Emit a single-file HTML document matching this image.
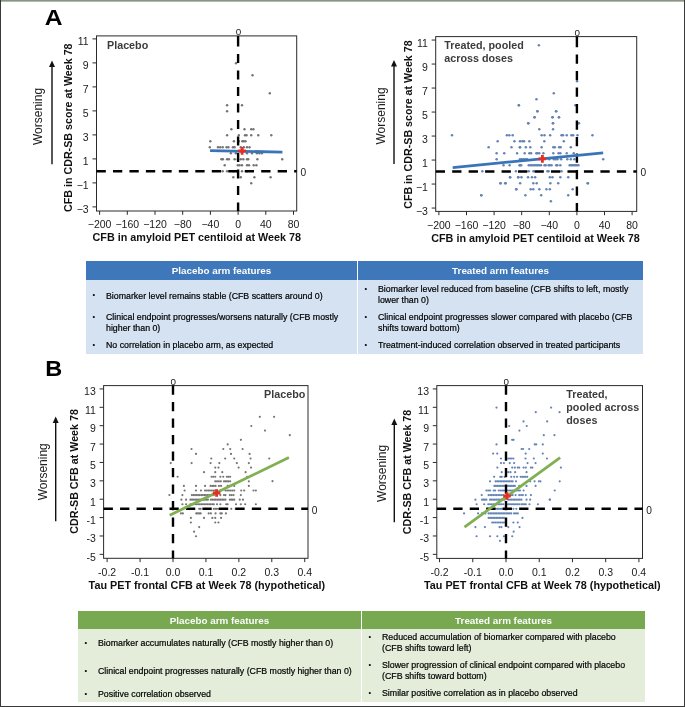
<!DOCTYPE html>
<html lang="en"><head><meta charset="utf-8"><title>Figure</title>
<style>
html,body{margin:0;padding:0;background:#fff;}
body{width:685px;height:707px;position:relative;overflow:hidden;font-family:"Liberation Sans", Arial, sans-serif;}
#frame{position:absolute;left:0;top:0;width:685px;height:707px;box-sizing:border-box;border-left:1px solid #3a3a3a;border-right:1px solid #3a3a3a;border-bottom:1px solid #3a3a3a;}
#topbar{position:absolute;left:0;top:0;width:685px;height:1px;background:#8a9387;border-bottom:1px solid #b2b9af;}
svg{position:absolute;left:0;top:0;}
svg text{font-family:"Liberation Sans", Arial, sans-serif;}
.tk{font-size:10.5px;fill:#1a1a1a;}
.z0{font-size:9.9px;fill:#1a1a1a;}
.z1{font-size:10.2px;fill:#1a1a1a;}
.ttl{font-size:10.8px;font-weight:bold;fill:#111;}
.yt{font-size:10.7px;}
.wor{font-size:12px;fill:#222;}
.lab{font-size:10.75px;font-weight:bold;fill:#3c3c3c;}
.pan{font-size:22.6px;font-weight:bold;fill:#000;}
.tb{position:absolute;font-size:8.8px;color:#000;}
.tb .th{position:relative;color:#fbfcfd;font-weight:bold;font-size:9.85px;text-align:center;}
.tb .th .c1,.tb .th .c2{position:absolute;top:0;height:100%;box-sizing:border-box;padding-top:0.9px;}
.tb .bd{position:relative;}
.tb .bd .c1,.tb .bd .c2{position:absolute;top:0;height:100%;}
.tb .c1{left:0;}
.it{position:absolute;left:0;padding-left:20px;line-height:11.3px;white-space:nowrap;-webkit-text-stroke:0.2px #000;}
.bu{position:absolute;left:6.6px;top:-1.1px;font-size:7.5px;-webkit-text-stroke:0;}
.ta .th .c1,.ta .th .c2{background:#3f78ba;}
.ta .bd .c1,.ta .bd .c2{background:#d4e2f2;}
.tbb .th .c1,.tbb .th .c2{background:#78a951;}
.tbb .bd .c1,.tbb .bd .c2{background:#e3edda;}
</style></head>
<body>
<svg width="685" height="707" viewBox="0 0 685 707">
<rect x="96.5" y="35.9" width="200.2" height="175.1" fill="#fff" stroke="#2a2a2a" stroke-width="1"/>
<line x1="92.5" y1="38.9" x2="96.5" y2="38.9" stroke="#2a2a2a" stroke-width="1"/>
<text x="88.7" y="45.4" text-anchor="end" class="tk">11</text>
<line x1="92.5" y1="62.9" x2="96.5" y2="62.9" stroke="#2a2a2a" stroke-width="1"/>
<text x="88.7" y="69.4" text-anchor="end" class="tk">9</text>
<line x1="92.5" y1="86.9" x2="96.5" y2="86.9" stroke="#2a2a2a" stroke-width="1"/>
<text x="88.7" y="93.4" text-anchor="end" class="tk">7</text>
<line x1="92.5" y1="110.9" x2="96.5" y2="110.9" stroke="#2a2a2a" stroke-width="1"/>
<text x="88.7" y="117.4" text-anchor="end" class="tk">5</text>
<line x1="92.5" y1="134.9" x2="96.5" y2="134.9" stroke="#2a2a2a" stroke-width="1"/>
<text x="88.7" y="141.4" text-anchor="end" class="tk">3</text>
<line x1="92.5" y1="158.9" x2="96.5" y2="158.9" stroke="#2a2a2a" stroke-width="1"/>
<text x="88.7" y="165.4" text-anchor="end" class="tk">1</text>
<line x1="92.5" y1="182.9" x2="96.5" y2="182.9" stroke="#2a2a2a" stroke-width="1"/>
<text x="88.7" y="189.4" text-anchor="end" class="tk">−1</text>
<line x1="92.5" y1="206.9" x2="96.5" y2="206.9" stroke="#2a2a2a" stroke-width="1"/>
<text x="88.7" y="213.4" text-anchor="end" class="tk">−3</text>
<line x1="99.6" y1="211" x2="99.6" y2="214.8" stroke="#2a2a2a" stroke-width="1"/>
<text x="99.6" y="228.2" text-anchor="middle" class="tk">−200</text>
<line x1="127.3" y1="211" x2="127.3" y2="214.8" stroke="#2a2a2a" stroke-width="1"/>
<text x="127.3" y="228.2" text-anchor="middle" class="tk">−160</text>
<line x1="155" y1="211" x2="155" y2="214.8" stroke="#2a2a2a" stroke-width="1"/>
<text x="155" y="228.2" text-anchor="middle" class="tk">−120</text>
<line x1="182.7" y1="211" x2="182.7" y2="214.8" stroke="#2a2a2a" stroke-width="1"/>
<text x="182.7" y="228.2" text-anchor="middle" class="tk">−80</text>
<line x1="210.4" y1="211" x2="210.4" y2="214.8" stroke="#2a2a2a" stroke-width="1"/>
<text x="210.4" y="228.2" text-anchor="middle" class="tk">−40</text>
<line x1="238.1" y1="211" x2="238.1" y2="214.8" stroke="#2a2a2a" stroke-width="1"/>
<text x="238.1" y="228.2" text-anchor="middle" class="tk">0</text>
<line x1="265.8" y1="211" x2="265.8" y2="214.8" stroke="#2a2a2a" stroke-width="1"/>
<text x="265.8" y="228.2" text-anchor="middle" class="tk">40</text>
<line x1="293.5" y1="211" x2="293.5" y2="214.8" stroke="#2a2a2a" stroke-width="1"/>
<text x="293.5" y="228.2" text-anchor="middle" class="tk">80</text>
<text x="196.8" y="241.4" text-anchor="middle" class="ttl">CFB in amyloid PET centiloid at Week 78</text>
<text transform="translate(72,127.7) rotate(-90)" text-anchor="middle" class="ttl yt">CFB in CDR-SB score at Week 78</text>
<text transform="translate(42.3,116.5) rotate(-90)" text-anchor="middle" class="wor">Worsening</text>
<line x1="52" y1="64.5" x2="52" y2="164.3" stroke="#111" stroke-width="1.4"/>
<path d="M52 60.5 L55 67.1 L49 67.1 Z" fill="#111"/>
<g fill="#747474"><circle cx="236" cy="63.3" r="1.2"/><circle cx="252.5" cy="75.3" r="1.2"/><circle cx="269.8" cy="93.3" r="1.2"/><circle cx="227.1" cy="105.3" r="1.2"/><circle cx="242" cy="105.3" r="1.2"/><circle cx="227.1" cy="111.3" r="1.2"/><circle cx="231.4" cy="129.3" r="1.2"/><circle cx="244.5" cy="129.3" r="1.2"/><circle cx="251.2" cy="129.3" r="1.2"/><circle cx="253.4" cy="129.3" r="1.2"/><circle cx="227.1" cy="135.3" r="1.2"/><circle cx="238.8" cy="135.3" r="1.2"/><circle cx="245" cy="135.3" r="1.2"/><circle cx="246.5" cy="135.3" r="1.2"/><circle cx="251.2" cy="135.3" r="1.2"/><circle cx="258.2" cy="135.3" r="1.2"/><circle cx="271.3" cy="135.3" r="1.2"/><circle cx="210.3" cy="141.3" r="1.2"/><circle cx="233.9" cy="141.3" r="1.2"/><circle cx="238.8" cy="141.3" r="1.2"/><circle cx="242.3" cy="141.3" r="1.2"/><circle cx="243.8" cy="141.3" r="1.2"/><circle cx="245.5" cy="141.3" r="1.2"/><circle cx="209.8" cy="147.3" r="1.2"/><circle cx="218" cy="147.3" r="1.2"/><circle cx="220.2" cy="147.3" r="1.2"/><circle cx="222.7" cy="147.3" r="1.2"/><circle cx="226.6" cy="147.3" r="1.2"/><circle cx="228.4" cy="147.3" r="1.2"/><circle cx="232.9" cy="147.3" r="1.2"/><circle cx="234.6" cy="147.3" r="1.2"/><circle cx="240.8" cy="147.3" r="1.2"/><circle cx="243.8" cy="147.3" r="1.2"/><circle cx="247" cy="147.3" r="1.2"/><circle cx="249.5" cy="147.3" r="1.2"/><circle cx="230.9" cy="153.3" r="1.2"/><circle cx="235.8" cy="153.3" r="1.2"/><circle cx="247" cy="153.3" r="1.2"/><circle cx="256.9" cy="153.3" r="1.2"/><circle cx="259.4" cy="153.3" r="1.2"/><circle cx="261.9" cy="153.3" r="1.2"/><circle cx="252" cy="153.3" r="1.2"/><circle cx="221.4" cy="159.3" r="1.2"/><circle cx="222.9" cy="159.3" r="1.2"/><circle cx="227.1" cy="159.3" r="1.2"/><circle cx="228.9" cy="159.3" r="1.2"/><circle cx="234.6" cy="159.3" r="1.2"/><circle cx="237.8" cy="159.3" r="1.2"/><circle cx="240.8" cy="159.3" r="1.2"/><circle cx="243.3" cy="159.3" r="1.2"/><circle cx="247" cy="159.3" r="1.2"/><circle cx="248.2" cy="159.3" r="1.2"/><circle cx="257.4" cy="159.3" r="1.2"/><circle cx="282.2" cy="159.3" r="1.2"/><circle cx="224.7" cy="165.3" r="1.2"/><circle cx="237.8" cy="165.3" r="1.2"/><circle cx="239.6" cy="165.3" r="1.2"/><circle cx="242" cy="165.3" r="1.2"/><circle cx="247" cy="165.3" r="1.2"/><circle cx="249" cy="165.3" r="1.2"/><circle cx="253.7" cy="165.3" r="1.2"/><circle cx="256.4" cy="165.3" r="1.2"/><circle cx="222.7" cy="171.3" r="1.2"/><circle cx="227.1" cy="171.3" r="1.2"/><circle cx="233.3" cy="171.3" r="1.2"/><circle cx="237.1" cy="171.3" r="1.2"/><circle cx="242" cy="171.3" r="1.2"/><circle cx="247" cy="171.3" r="1.2"/><circle cx="233.3" cy="177.3" r="1.2"/><circle cx="240.8" cy="177.3" r="1.2"/><circle cx="254.4" cy="177.3" r="1.2"/><circle cx="270.6" cy="177.3" r="1.2"/><circle cx="251.2" cy="183.3" r="1.2"/></g>
<line x1="238.1" y1="35.9" x2="238.1" y2="211" stroke="#000" stroke-width="2.4" stroke-dasharray="10.7 7.3 9.2 7.3 9.2 7.3 9.2 7.3 9.2 7.3 9.2 7.3 9.2 7.3 9.2 7.3 9.2 7.3 9.2 7.3 9.2 7.3 9.2 7.3"/>
<line x1="96.5" y1="171.3" x2="296.7" y2="171.3" stroke="#000" stroke-width="2.4" stroke-dasharray="9.3 7.17"/>
<text x="238.4" y="34.8" text-anchor="middle" class="z0">0</text>
<text x="303.3" y="176.2" text-anchor="middle" class="z1">0</text>
<line x1="210.05" y1="150.54" x2="282.42" y2="152.1" stroke="#3a74b8" stroke-width="2.8"/>
<path d="M238.3 150.9 H245.9 M242.1 147.1 V154.7" stroke="#e62e22" stroke-width="2.8" fill="none"/>
<text x="107" y="49.3" class="lab">Placebo</text>
<rect x="435.7" y="36.6" width="201" height="174.8" fill="#fff" stroke="#2a2a2a" stroke-width="1"/>
<line x1="431.7" y1="40.05" x2="435.7" y2="40.05" stroke="#2a2a2a" stroke-width="1"/>
<text x="427.9" y="46.55" text-anchor="end" class="tk">11</text>
<line x1="431.7" y1="64.05" x2="435.7" y2="64.05" stroke="#2a2a2a" stroke-width="1"/>
<text x="427.9" y="70.55" text-anchor="end" class="tk">9</text>
<line x1="431.7" y1="88.05" x2="435.7" y2="88.05" stroke="#2a2a2a" stroke-width="1"/>
<text x="427.9" y="94.55" text-anchor="end" class="tk">7</text>
<line x1="431.7" y1="112.05" x2="435.7" y2="112.05" stroke="#2a2a2a" stroke-width="1"/>
<text x="427.9" y="118.55" text-anchor="end" class="tk">5</text>
<line x1="431.7" y1="136.05" x2="435.7" y2="136.05" stroke="#2a2a2a" stroke-width="1"/>
<text x="427.9" y="142.55" text-anchor="end" class="tk">3</text>
<line x1="431.7" y1="160.05" x2="435.7" y2="160.05" stroke="#2a2a2a" stroke-width="1"/>
<text x="427.9" y="166.55" text-anchor="end" class="tk">1</text>
<line x1="431.7" y1="184.05" x2="435.7" y2="184.05" stroke="#2a2a2a" stroke-width="1"/>
<text x="427.9" y="190.55" text-anchor="end" class="tk">−1</text>
<line x1="431.7" y1="208.05" x2="435.7" y2="208.05" stroke="#2a2a2a" stroke-width="1"/>
<text x="427.9" y="214.55" text-anchor="end" class="tk">−3</text>
<line x1="438.9" y1="211.4" x2="438.9" y2="215.2" stroke="#2a2a2a" stroke-width="1"/>
<text x="438.9" y="228.6" text-anchor="middle" class="tk">−200</text>
<line x1="466.5" y1="211.4" x2="466.5" y2="215.2" stroke="#2a2a2a" stroke-width="1"/>
<text x="466.5" y="228.6" text-anchor="middle" class="tk">−160</text>
<line x1="494.1" y1="211.4" x2="494.1" y2="215.2" stroke="#2a2a2a" stroke-width="1"/>
<text x="494.1" y="228.6" text-anchor="middle" class="tk">−120</text>
<line x1="521.7" y1="211.4" x2="521.7" y2="215.2" stroke="#2a2a2a" stroke-width="1"/>
<text x="521.7" y="228.6" text-anchor="middle" class="tk">−80</text>
<line x1="549.3" y1="211.4" x2="549.3" y2="215.2" stroke="#2a2a2a" stroke-width="1"/>
<text x="549.3" y="228.6" text-anchor="middle" class="tk">−40</text>
<line x1="576.9" y1="211.4" x2="576.9" y2="215.2" stroke="#2a2a2a" stroke-width="1"/>
<text x="576.9" y="228.6" text-anchor="middle" class="tk">0</text>
<line x1="604.5" y1="211.4" x2="604.5" y2="215.2" stroke="#2a2a2a" stroke-width="1"/>
<text x="604.5" y="228.6" text-anchor="middle" class="tk">40</text>
<line x1="632.1" y1="211.4" x2="632.1" y2="215.2" stroke="#2a2a2a" stroke-width="1"/>
<text x="632.1" y="228.6" text-anchor="middle" class="tk">80</text>
<text x="535.5" y="241.8" text-anchor="middle" class="ttl">CFB in amyloid PET centiloid at Week 78</text>
<text transform="translate(411.8,124.6) rotate(-90)" text-anchor="middle" class="ttl yt">CFB in CDR-SB score at Week 78</text>
<text transform="translate(384.6,116) rotate(-90)" text-anchor="middle" class="wor">Worsening</text>
<line x1="394" y1="63.9" x2="394" y2="164" stroke="#111" stroke-width="1.4"/>
<path d="M394 59.9 L397 66.5 L391 66.5 Z" fill="#111"/>
<g fill="#6584b6"><circle cx="518.83" cy="105.3" r="1.25"/><circle cx="451.97" cy="135.3" r="1.25"/><circle cx="506.86" cy="135.3" r="1.25"/><circle cx="509.34" cy="135.3" r="1.25"/><circle cx="512.7" cy="135.3" r="1.25"/><circle cx="497.66" cy="141.3" r="1.25"/><circle cx="514.45" cy="141.3" r="1.25"/><circle cx="488.61" cy="147.3" r="1.25"/><circle cx="511.53" cy="147.3" r="1.25"/><circle cx="519.85" cy="147.3" r="1.25"/><circle cx="496.64" cy="153.3" r="1.25"/><circle cx="504.23" cy="153.3" r="1.25"/><circle cx="517.08" cy="153.3" r="1.25"/><circle cx="496.64" cy="159.3" r="1.25"/><circle cx="503.5" cy="165.3" r="1.25"/><circle cx="509.64" cy="165.3" r="1.25"/><circle cx="519.56" cy="165.3" r="1.25"/><circle cx="482.34" cy="171.3" r="1.25"/><circle cx="515.91" cy="171.3" r="1.25"/><circle cx="510.07" cy="177.3" r="1.25"/><circle cx="518.1" cy="177.3" r="1.25"/><circle cx="500.58" cy="183.3" r="1.25"/><circle cx="505.69" cy="183.3" r="1.25"/><circle cx="516.35" cy="189.3" r="1.25"/><circle cx="481.31" cy="195.3" r="1.25"/><circle cx="537.52" cy="111.3" r="1.25"/><circle cx="556.21" cy="111.3" r="1.25"/><circle cx="534.6" cy="117.3" r="1.25"/><circle cx="552.48" cy="117.3" r="1.25"/><circle cx="558.9" cy="117.3" r="1.25"/><circle cx="528.18" cy="123.3" r="1.25"/><circle cx="553.06" cy="123.3" r="1.25"/><circle cx="579" cy="123.3" r="1.25"/><circle cx="539.28" cy="129.3" r="1.25"/><circle cx="553.06" cy="129.3" r="1.25"/><circle cx="541.61" cy="135.3" r="1.25"/><circle cx="544.53" cy="135.3" r="1.25"/><circle cx="550.14" cy="135.3" r="1.25"/><circle cx="561.47" cy="135.3" r="1.25"/><circle cx="562.99" cy="135.3" r="1.25"/><circle cx="566.73" cy="135.3" r="1.25"/><circle cx="571.4" cy="135.3" r="1.25"/><circle cx="573.15" cy="135.3" r="1.25"/><circle cx="577.48" cy="135.3" r="1.25"/><circle cx="592.43" cy="135.3" r="1.25"/><circle cx="520" cy="141.3" r="1.25"/><circle cx="522.34" cy="141.3" r="1.25"/><circle cx="524.09" cy="141.3" r="1.25"/><circle cx="529.35" cy="141.3" r="1.25"/><circle cx="544.3" cy="141.3" r="1.25"/><circle cx="563.81" cy="141.3" r="1.25"/><circle cx="520" cy="147.3" r="1.25"/><circle cx="525.84" cy="147.3" r="1.25"/><circle cx="530.28" cy="147.3" r="1.25"/><circle cx="541.61" cy="147.3" r="1.25"/><circle cx="553.29" cy="147.3" r="1.25"/><circle cx="554.81" cy="147.3" r="1.25"/><circle cx="559.14" cy="147.3" r="1.25"/><circle cx="560.65" cy="147.3" r="1.25"/><circle cx="570.82" cy="147.3" r="1.25"/><circle cx="524.67" cy="153.3" r="1.25"/><circle cx="529.35" cy="153.3" r="1.25"/><circle cx="531.1" cy="153.3" r="1.25"/><circle cx="536.36" cy="153.3" r="1.25"/><circle cx="537.52" cy="153.3" r="1.25"/><circle cx="539.28" cy="153.3" r="1.25"/><circle cx="543.36" cy="153.3" r="1.25"/><circle cx="553.29" cy="153.3" r="1.25"/><circle cx="558.55" cy="153.3" r="1.25"/><circle cx="560.3" cy="153.3" r="1.25"/><circle cx="566.73" cy="153.3" r="1.25"/><circle cx="573.74" cy="153.3" r="1.25"/><circle cx="520" cy="159.3" r="1.25"/><circle cx="521.75" cy="159.3" r="1.25"/><circle cx="523.5" cy="159.3" r="1.25"/><circle cx="525.26" cy="159.3" r="1.25"/><circle cx="527.01" cy="159.3" r="1.25"/><circle cx="549.21" cy="159.3" r="1.25"/><circle cx="553.88" cy="159.3" r="1.25"/><circle cx="555.63" cy="159.3" r="1.25"/><circle cx="557.38" cy="159.3" r="1.25"/><circle cx="561.12" cy="159.3" r="1.25"/><circle cx="567.31" cy="159.3" r="1.25"/><circle cx="570.82" cy="159.3" r="1.25"/><circle cx="574.32" cy="159.3" r="1.25"/><circle cx="520" cy="165.3" r="1.25"/><circle cx="521.17" cy="165.3" r="1.25"/><circle cx="528.76" cy="165.3" r="1.25"/><circle cx="530.29" cy="165.3" r="1.25"/><circle cx="531.83" cy="165.3" r="1.25"/><circle cx="533.36" cy="165.3" r="1.25"/><circle cx="534.89" cy="165.3" r="1.25"/><circle cx="536.43" cy="165.3" r="1.25"/><circle cx="537.96" cy="165.3" r="1.25"/><circle cx="539.49" cy="165.3" r="1.25"/><circle cx="541.03" cy="165.3" r="1.25"/><circle cx="544.53" cy="165.3" r="1.25"/><circle cx="545.7" cy="165.3" r="1.25"/><circle cx="548.62" cy="165.3" r="1.25"/><circle cx="549.79" cy="165.3" r="1.25"/><circle cx="551.54" cy="165.3" r="1.25"/><circle cx="556.21" cy="165.3" r="1.25"/><circle cx="557.38" cy="165.3" r="1.25"/><circle cx="560.3" cy="165.3" r="1.25"/><circle cx="569.65" cy="165.3" r="1.25"/><circle cx="571.11" cy="165.3" r="1.25"/><circle cx="572.57" cy="165.3" r="1.25"/><circle cx="574.03" cy="165.3" r="1.25"/><circle cx="575.49" cy="165.3" r="1.25"/><circle cx="576.95" cy="165.3" r="1.25"/><circle cx="578.41" cy="165.3" r="1.25"/><circle cx="528.76" cy="171.3" r="1.25"/><circle cx="533.43" cy="171.3" r="1.25"/><circle cx="547.45" cy="171.3" r="1.25"/><circle cx="548.62" cy="171.3" r="1.25"/><circle cx="561.47" cy="171.3" r="1.25"/><circle cx="510.15" cy="177.3" r="1.25"/><circle cx="518.3" cy="177.3" r="1.25"/><circle cx="521.45" cy="177.3" r="1.25"/><circle cx="528.02" cy="177.3" r="1.25"/><circle cx="531.96" cy="177.3" r="1.25"/><circle cx="535.11" cy="177.3" r="1.25"/><circle cx="549.83" cy="177.3" r="1.25"/><circle cx="552.45" cy="177.3" r="1.25"/><circle cx="560.34" cy="177.3" r="1.25"/><circle cx="568.22" cy="177.3" r="1.25"/><circle cx="500.43" cy="183.3" r="1.25"/><circle cx="505.16" cy="183.3" r="1.25"/><circle cx="520.14" cy="183.3" r="1.25"/><circle cx="533.27" cy="183.3" r="1.25"/><circle cx="536.69" cy="183.3" r="1.25"/><circle cx="550.35" cy="183.3" r="1.25"/><circle cx="558.23" cy="183.3" r="1.25"/><circle cx="587.92" cy="183.3" r="1.25"/><circle cx="516.2" cy="189.3" r="1.25"/><circle cx="530.65" cy="189.3" r="1.25"/><circle cx="533.27" cy="189.3" r="1.25"/><circle cx="539.32" cy="189.3" r="1.25"/><circle cx="546.41" cy="189.3" r="1.25"/><circle cx="549.83" cy="189.3" r="1.25"/><circle cx="572.69" cy="189.3" r="1.25"/><circle cx="481.25" cy="195.3" r="1.25"/><circle cx="525.39" cy="195.3" r="1.25"/><circle cx="541.16" cy="195.3" r="1.25"/><circle cx="568.22" cy="195.3" r="1.25"/><circle cx="550.88" cy="201.3" r="1.25"/><circle cx="538.89" cy="45.3" r="1.25"/><circle cx="577.08" cy="81.3" r="1.25"/><circle cx="553.78" cy="93.3" r="1.25"/><circle cx="536.44" cy="99.3" r="1.25"/><circle cx="518.92" cy="105.3" r="1.25"/><circle cx="575.33" cy="105.3" r="1.25"/><circle cx="537.32" cy="111.3" r="1.25"/><circle cx="556.06" cy="111.3" r="1.25"/><circle cx="534.51" cy="117.3" r="1.25"/><circle cx="552.56" cy="117.3" r="1.25"/><circle cx="559.04" cy="117.3" r="1.25"/><circle cx="528.38" cy="123.3" r="1.25"/><circle cx="552.91" cy="123.3" r="1.25"/><circle cx="577.96" cy="123.3" r="1.25"/><circle cx="603.2" cy="159.3" r="1.25"/><circle cx="587.7" cy="183.3" r="1.25"/></g>
<line x1="576.9" y1="36.6" x2="576.9" y2="211.4" stroke="#000" stroke-width="2.4" stroke-dasharray="10.7 7.3 9.2 7.3 9.2 7.3 9.2 7.3 9.2 7.3 9.2 7.3 9.2 7.3 9.2 7.3 9.2 7.3 9.2 7.3 9.2 7.3 9.2 7.3"/>
<line x1="435.7" y1="171.5" x2="636.7" y2="171.5" stroke="#000" stroke-width="2.4" stroke-dasharray="9.3 7.17"/>
<text x="577.2" y="35.5" text-anchor="middle" class="z0">0</text>
<text x="643.3" y="176.4" text-anchor="middle" class="z1">0</text>
<line x1="452.7" y1="167.54" x2="603.12" y2="152.9" stroke="#3a74b8" stroke-width="2.8"/>
<path d="M538.6 158.9 H546.2 M542.4 155.1 V162.7" stroke="#e62e22" stroke-width="2.8" fill="none"/>
<text x="444.3" y="49.3" class="lab">Treated, pooled</text>
<text x="444.3" y="62.2" class="lab">across doses</text>
<rect x="103.6" y="385.6" width="204.4" height="172.7" fill="#fff" stroke="#2a2a2a" stroke-width="1"/>
<line x1="99.6" y1="388.93" x2="103.6" y2="388.93" stroke="#2a2a2a" stroke-width="1"/>
<text x="95.8" y="395.43" text-anchor="end" class="tk">13</text>
<line x1="99.6" y1="407.31" x2="103.6" y2="407.31" stroke="#2a2a2a" stroke-width="1"/>
<text x="95.8" y="413.81" text-anchor="end" class="tk">11</text>
<line x1="99.6" y1="425.69" x2="103.6" y2="425.69" stroke="#2a2a2a" stroke-width="1"/>
<text x="95.8" y="432.19" text-anchor="end" class="tk">9</text>
<line x1="99.6" y1="444.07" x2="103.6" y2="444.07" stroke="#2a2a2a" stroke-width="1"/>
<text x="95.8" y="450.57" text-anchor="end" class="tk">7</text>
<line x1="99.6" y1="462.45" x2="103.6" y2="462.45" stroke="#2a2a2a" stroke-width="1"/>
<text x="95.8" y="468.95" text-anchor="end" class="tk">5</text>
<line x1="99.6" y1="480.83" x2="103.6" y2="480.83" stroke="#2a2a2a" stroke-width="1"/>
<text x="95.8" y="487.33" text-anchor="end" class="tk">3</text>
<line x1="99.6" y1="499.21" x2="103.6" y2="499.21" stroke="#2a2a2a" stroke-width="1"/>
<text x="95.8" y="505.71" text-anchor="end" class="tk">1</text>
<line x1="99.6" y1="517.59" x2="103.6" y2="517.59" stroke="#2a2a2a" stroke-width="1"/>
<text x="95.8" y="524.09" text-anchor="end" class="tk">-1</text>
<line x1="99.6" y1="535.97" x2="103.6" y2="535.97" stroke="#2a2a2a" stroke-width="1"/>
<text x="95.8" y="542.47" text-anchor="end" class="tk">-3</text>
<line x1="99.6" y1="554.35" x2="103.6" y2="554.35" stroke="#2a2a2a" stroke-width="1"/>
<text x="95.8" y="560.85" text-anchor="end" class="tk">-5</text>
<line x1="107.14" y1="558.3" x2="107.14" y2="562.1" stroke="#2a2a2a" stroke-width="1"/>
<text x="107.14" y="575.5" text-anchor="middle" class="tk">-0.2</text>
<line x1="140.07" y1="558.3" x2="140.07" y2="562.1" stroke="#2a2a2a" stroke-width="1"/>
<text x="140.07" y="575.5" text-anchor="middle" class="tk">-0.1</text>
<line x1="173" y1="558.3" x2="173" y2="562.1" stroke="#2a2a2a" stroke-width="1"/>
<text x="173" y="575.5" text-anchor="middle" class="tk">0.0</text>
<line x1="205.93" y1="558.3" x2="205.93" y2="562.1" stroke="#2a2a2a" stroke-width="1"/>
<text x="205.93" y="575.5" text-anchor="middle" class="tk">0.1</text>
<line x1="238.86" y1="558.3" x2="238.86" y2="562.1" stroke="#2a2a2a" stroke-width="1"/>
<text x="238.86" y="575.5" text-anchor="middle" class="tk">0.2</text>
<line x1="271.79" y1="558.3" x2="271.79" y2="562.1" stroke="#2a2a2a" stroke-width="1"/>
<text x="271.79" y="575.5" text-anchor="middle" class="tk">0.3</text>
<line x1="304.72" y1="558.3" x2="304.72" y2="562.1" stroke="#2a2a2a" stroke-width="1"/>
<text x="304.72" y="575.5" text-anchor="middle" class="tk">0.4</text>
<text x="206.9" y="588.7" text-anchor="middle" class="ttl">Tau PET frontal CFB at Week 78 (hypothetical)</text>
<text transform="translate(77.6,471.4) rotate(-90)" text-anchor="middle" class="ttl yt">CDR-SB CFB at Week 78</text>
<text transform="translate(46.6,471.8) rotate(-90)" text-anchor="middle" class="wor">Worsening</text>
<line x1="55.7" y1="420.5" x2="55.7" y2="521.3" stroke="#111" stroke-width="1.4"/>
<path d="M55.7 416.5 L58.7 423.1 L52.7 423.1 Z" fill="#111"/>
<g fill="#747474"><circle cx="195.99" cy="453.9" r="1.08"/><circle cx="231.02" cy="453.9" r="1.08"/><circle cx="249.56" cy="453.9" r="1.08"/><circle cx="211.31" cy="458.48" r="1.08"/><circle cx="225.18" cy="458.48" r="1.08"/><circle cx="234.23" cy="458.48" r="1.08"/><circle cx="250.58" cy="458.48" r="1.08"/><circle cx="269.27" cy="458.48" r="1.08"/><circle cx="170.73" cy="463.05" r="1.08"/><circle cx="191.61" cy="463.05" r="1.08"/><circle cx="210.58" cy="463.05" r="1.08"/><circle cx="219.34" cy="463.05" r="1.08"/><circle cx="236.86" cy="463.05" r="1.08"/><circle cx="248.83" cy="463.05" r="1.08"/><circle cx="215.26" cy="467.62" r="1.08"/><circle cx="218.47" cy="467.62" r="1.08"/><circle cx="238.61" cy="467.62" r="1.08"/><circle cx="251.02" cy="467.62" r="1.08"/><circle cx="204.01" cy="472.2" r="1.08"/><circle cx="215.26" cy="472.2" r="1.08"/><circle cx="222.26" cy="472.2" r="1.08"/><circle cx="245.62" cy="472.2" r="1.08"/><circle cx="177.59" cy="476.78" r="1.08"/><circle cx="211.61" cy="476.78" r="1.08"/><circle cx="213.36" cy="476.78" r="1.08"/><circle cx="215.26" cy="476.78" r="1.08"/><circle cx="220.36" cy="476.78" r="1.08"/><circle cx="223.28" cy="476.78" r="1.08"/><circle cx="226.93" cy="476.78" r="1.08"/><circle cx="228.39" cy="476.78" r="1.08"/><circle cx="230.15" cy="476.78" r="1.08"/><circle cx="247.08" cy="476.78" r="1.08"/><circle cx="215.26" cy="481.35" r="1.08"/><circle cx="217.01" cy="481.35" r="1.08"/><circle cx="218.91" cy="481.35" r="1.08"/><circle cx="220.8" cy="481.35" r="1.08"/><circle cx="224.01" cy="481.35" r="1.08"/><circle cx="225.47" cy="481.35" r="1.08"/><circle cx="226.93" cy="481.35" r="1.08"/><circle cx="228.39" cy="481.35" r="1.08"/><circle cx="230.15" cy="481.35" r="1.08"/><circle cx="248.83" cy="481.35" r="1.08"/><circle cx="183.87" cy="485.93" r="1.08"/><circle cx="195.99" cy="485.93" r="1.08"/><circle cx="205.04" cy="485.93" r="1.08"/><circle cx="210.58" cy="485.93" r="1.08"/><circle cx="212.34" cy="485.93" r="1.08"/><circle cx="213.8" cy="485.93" r="1.08"/><circle cx="215.55" cy="485.93" r="1.08"/><circle cx="218.91" cy="485.93" r="1.08"/><circle cx="221.09" cy="485.93" r="1.08"/><circle cx="227.66" cy="485.93" r="1.08"/><circle cx="229.12" cy="485.93" r="1.08"/><circle cx="230.58" cy="485.93" r="1.08"/><circle cx="234.23" cy="485.93" r="1.08"/><circle cx="248.83" cy="485.93" r="1.08"/><circle cx="184.6" cy="490.5" r="1.08"/><circle cx="195.99" cy="490.5" r="1.08"/><circle cx="200.95" cy="490.5" r="1.08"/><circle cx="205.04" cy="490.5" r="1.08"/><circle cx="206.7" cy="490.5" r="1.08"/><circle cx="208.37" cy="490.5" r="1.08"/><circle cx="210.04" cy="490.5" r="1.08"/><circle cx="211.71" cy="490.5" r="1.08"/><circle cx="213.38" cy="490.5" r="1.08"/><circle cx="215.05" cy="490.5" r="1.08"/><circle cx="216.72" cy="490.5" r="1.08"/><circle cx="220.36" cy="490.5" r="1.08"/><circle cx="225.47" cy="490.5" r="1.08"/><circle cx="227.23" cy="490.5" r="1.08"/><circle cx="228.98" cy="490.5" r="1.08"/><circle cx="230.73" cy="490.5" r="1.08"/><circle cx="232.48" cy="490.5" r="1.08"/><circle cx="234.23" cy="490.5" r="1.08"/><circle cx="241.24" cy="490.5" r="1.08"/><circle cx="244.16" cy="490.5" r="1.08"/><circle cx="253.5" cy="490.5" r="1.08"/><circle cx="255.84" cy="490.5" r="1.08"/><circle cx="182.41" cy="495.07" r="1.08"/><circle cx="191.9" cy="495.07" r="1.08"/><circle cx="193.46" cy="495.07" r="1.08"/><circle cx="195.03" cy="495.07" r="1.08"/><circle cx="196.59" cy="495.07" r="1.08"/><circle cx="198.15" cy="495.07" r="1.08"/><circle cx="199.72" cy="495.07" r="1.08"/><circle cx="201.28" cy="495.07" r="1.08"/><circle cx="202.85" cy="495.07" r="1.08"/><circle cx="204.41" cy="495.07" r="1.08"/><circle cx="205.97" cy="495.07" r="1.08"/><circle cx="207.54" cy="495.07" r="1.08"/><circle cx="209.1" cy="495.07" r="1.08"/><circle cx="210.67" cy="495.07" r="1.08"/><circle cx="212.23" cy="495.07" r="1.08"/><circle cx="213.8" cy="495.07" r="1.08"/><circle cx="220.36" cy="495.07" r="1.08"/><circle cx="224.01" cy="495.07" r="1.08"/><circle cx="225.47" cy="495.07" r="1.08"/><circle cx="229.85" cy="495.07" r="1.08"/><circle cx="231.68" cy="495.07" r="1.08"/><circle cx="233.5" cy="495.07" r="1.08"/><circle cx="240.8" cy="495.07" r="1.08"/><circle cx="181.39" cy="499.65" r="1.08"/><circle cx="186.06" cy="499.65" r="1.08"/><circle cx="190.44" cy="499.65" r="1.08"/><circle cx="192.03" cy="499.65" r="1.08"/><circle cx="193.62" cy="499.65" r="1.08"/><circle cx="195.22" cy="499.65" r="1.08"/><circle cx="196.81" cy="499.65" r="1.08"/><circle cx="198.4" cy="499.65" r="1.08"/><circle cx="199.99" cy="499.65" r="1.08"/><circle cx="201.59" cy="499.65" r="1.08"/><circle cx="203.18" cy="499.65" r="1.08"/><circle cx="204.77" cy="499.65" r="1.08"/><circle cx="206.36" cy="499.65" r="1.08"/><circle cx="207.96" cy="499.65" r="1.08"/><circle cx="210.88" cy="499.65" r="1.08"/><circle cx="212.5" cy="499.65" r="1.08"/><circle cx="214.12" cy="499.65" r="1.08"/><circle cx="215.74" cy="499.65" r="1.08"/><circle cx="217.36" cy="499.65" r="1.08"/><circle cx="218.99" cy="499.65" r="1.08"/><circle cx="220.61" cy="499.65" r="1.08"/><circle cx="222.23" cy="499.65" r="1.08"/><circle cx="223.85" cy="499.65" r="1.08"/><circle cx="225.47" cy="499.65" r="1.08"/><circle cx="229.85" cy="499.65" r="1.08"/><circle cx="231.31" cy="499.65" r="1.08"/><circle cx="232.77" cy="499.65" r="1.08"/><circle cx="234.23" cy="499.65" r="1.08"/><circle cx="239.78" cy="499.65" r="1.08"/><circle cx="242.99" cy="499.65" r="1.08"/><circle cx="182.41" cy="504.23" r="1.08"/><circle cx="186.06" cy="504.23" r="1.08"/><circle cx="190.44" cy="504.23" r="1.08"/><circle cx="192" cy="504.23" r="1.08"/><circle cx="193.55" cy="504.23" r="1.08"/><circle cx="195.11" cy="504.23" r="1.08"/><circle cx="196.67" cy="504.23" r="1.08"/><circle cx="198.22" cy="504.23" r="1.08"/><circle cx="199.78" cy="504.23" r="1.08"/><circle cx="201.34" cy="504.23" r="1.08"/><circle cx="202.9" cy="504.23" r="1.08"/><circle cx="204.45" cy="504.23" r="1.08"/><circle cx="206.01" cy="504.23" r="1.08"/><circle cx="207.57" cy="504.23" r="1.08"/><circle cx="209.12" cy="504.23" r="1.08"/><circle cx="210.68" cy="504.23" r="1.08"/><circle cx="212.24" cy="504.23" r="1.08"/><circle cx="213.8" cy="504.23" r="1.08"/><circle cx="217.01" cy="504.23" r="1.08"/><circle cx="220.36" cy="504.23" r="1.08"/><circle cx="226.2" cy="504.23" r="1.08"/><circle cx="227.66" cy="504.23" r="1.08"/><circle cx="235.99" cy="504.23" r="1.08"/><circle cx="240.8" cy="504.23" r="1.08"/><circle cx="245.18" cy="504.23" r="1.08"/><circle cx="255.84" cy="504.23" r="1.08"/><circle cx="199.2" cy="508.8" r="1.08"/><circle cx="200.66" cy="508.8" r="1.08"/><circle cx="213.8" cy="508.8" r="1.08"/><circle cx="215.26" cy="508.8" r="1.08"/><circle cx="216.72" cy="508.8" r="1.08"/><circle cx="218.18" cy="508.8" r="1.08"/><circle cx="231.31" cy="508.8" r="1.08"/><circle cx="235.69" cy="508.8" r="1.08"/><circle cx="180.95" cy="513.38" r="1.08"/><circle cx="182.85" cy="513.38" r="1.08"/><circle cx="196.28" cy="513.38" r="1.08"/><circle cx="197.74" cy="513.38" r="1.08"/><circle cx="199.2" cy="513.38" r="1.08"/><circle cx="200.66" cy="513.38" r="1.08"/><circle cx="208.69" cy="513.38" r="1.08"/><circle cx="210.88" cy="513.38" r="1.08"/><circle cx="215.55" cy="513.38" r="1.08"/><circle cx="220.36" cy="513.38" r="1.08"/><circle cx="221.82" cy="513.38" r="1.08"/><circle cx="225.91" cy="513.38" r="1.08"/><circle cx="190.88" cy="517.95" r="1.08"/><circle cx="204.01" cy="517.95" r="1.08"/><circle cx="212.34" cy="517.95" r="1.08"/><circle cx="215.26" cy="517.95" r="1.08"/><circle cx="221.09" cy="517.95" r="1.08"/><circle cx="190.88" cy="522.52" r="1.08"/><circle cx="215.26" cy="522.52" r="1.08"/><circle cx="218.47" cy="522.52" r="1.08"/><circle cx="199.2" cy="527.1" r="1.08"/><circle cx="194.09" cy="531.67" r="1.08"/><circle cx="195.99" cy="536.25" r="1.08"/><circle cx="259.8" cy="416.8" r="1.08"/><circle cx="274.1" cy="416.8" r="1.08"/><circle cx="251.3" cy="426" r="1.08"/><circle cx="265" cy="430.6" r="1.08"/><circle cx="289.8" cy="435.2" r="1.08"/><circle cx="240.9" cy="439.8" r="1.08"/><circle cx="227.7" cy="444.4" r="1.08"/><circle cx="191.5" cy="449" r="1.08"/><circle cx="223.3" cy="449" r="1.08"/><circle cx="230.2" cy="449" r="1.08"/><circle cx="242.6" cy="449" r="1.08"/><circle cx="272.5" cy="481.2" r="1.08"/><circle cx="169.4" cy="495" r="1.08"/></g>
<line x1="173" y1="385.6" x2="173" y2="558.3" stroke="#000" stroke-width="2.4" stroke-dasharray="9.2 7.3 9.2 7.3 9.2 7.3 9.2 7.3 9.2 7.3 9.2 7.3 9.2 7.3 9.2 7.3 9.2 7.3 9.2 7.3 9.2 7.3 9.2 7.3"/>
<line x1="103.6" y1="508.8" x2="308" y2="508.8" stroke="#000" stroke-width="2.4" stroke-dasharray="9.3 7.17"/>
<text x="173.3" y="384.5" text-anchor="middle" class="z0">0</text>
<text x="314.6" y="513.7" text-anchor="middle" class="z1">0</text>
<line x1="169.71" y1="515.21" x2="288.91" y2="457.56" stroke="#80b052" stroke-width="2.8"/>
<path d="M212.8 493 H220.4 M216.6 489.2 V496.8" stroke="#e62e22" stroke-width="2.8" fill="none"/>
<text x="305.3" y="398.3" text-anchor="end" class="lab">Placebo</text>
<rect x="436.8" y="385.6" width="205.7" height="172.8" fill="#fff" stroke="#2a2a2a" stroke-width="1"/>
<line x1="432.8" y1="388.93" x2="436.8" y2="388.93" stroke="#2a2a2a" stroke-width="1"/>
<text x="429" y="395.43" text-anchor="end" class="tk">13</text>
<line x1="432.8" y1="407.31" x2="436.8" y2="407.31" stroke="#2a2a2a" stroke-width="1"/>
<text x="429" y="413.81" text-anchor="end" class="tk">11</text>
<line x1="432.8" y1="425.69" x2="436.8" y2="425.69" stroke="#2a2a2a" stroke-width="1"/>
<text x="429" y="432.19" text-anchor="end" class="tk">9</text>
<line x1="432.8" y1="444.07" x2="436.8" y2="444.07" stroke="#2a2a2a" stroke-width="1"/>
<text x="429" y="450.57" text-anchor="end" class="tk">7</text>
<line x1="432.8" y1="462.45" x2="436.8" y2="462.45" stroke="#2a2a2a" stroke-width="1"/>
<text x="429" y="468.95" text-anchor="end" class="tk">5</text>
<line x1="432.8" y1="480.83" x2="436.8" y2="480.83" stroke="#2a2a2a" stroke-width="1"/>
<text x="429" y="487.33" text-anchor="end" class="tk">3</text>
<line x1="432.8" y1="499.21" x2="436.8" y2="499.21" stroke="#2a2a2a" stroke-width="1"/>
<text x="429" y="505.71" text-anchor="end" class="tk">1</text>
<line x1="432.8" y1="517.59" x2="436.8" y2="517.59" stroke="#2a2a2a" stroke-width="1"/>
<text x="429" y="524.09" text-anchor="end" class="tk">-1</text>
<line x1="432.8" y1="535.97" x2="436.8" y2="535.97" stroke="#2a2a2a" stroke-width="1"/>
<text x="429" y="542.47" text-anchor="end" class="tk">-3</text>
<line x1="432.8" y1="554.35" x2="436.8" y2="554.35" stroke="#2a2a2a" stroke-width="1"/>
<text x="429" y="560.85" text-anchor="end" class="tk">-5</text>
<line x1="439.54" y1="558.4" x2="439.54" y2="562.2" stroke="#2a2a2a" stroke-width="1"/>
<text x="439.54" y="575.6" text-anchor="middle" class="tk">-0.2</text>
<line x1="472.77" y1="558.4" x2="472.77" y2="562.2" stroke="#2a2a2a" stroke-width="1"/>
<text x="472.77" y="575.6" text-anchor="middle" class="tk">-0.1</text>
<line x1="506" y1="558.4" x2="506" y2="562.2" stroke="#2a2a2a" stroke-width="1"/>
<text x="506" y="575.6" text-anchor="middle" class="tk">0.0</text>
<line x1="539.23" y1="558.4" x2="539.23" y2="562.2" stroke="#2a2a2a" stroke-width="1"/>
<text x="539.23" y="575.6" text-anchor="middle" class="tk">0.1</text>
<line x1="572.46" y1="558.4" x2="572.46" y2="562.2" stroke="#2a2a2a" stroke-width="1"/>
<text x="572.46" y="575.6" text-anchor="middle" class="tk">0.2</text>
<line x1="605.69" y1="558.4" x2="605.69" y2="562.2" stroke="#2a2a2a" stroke-width="1"/>
<text x="605.69" y="575.6" text-anchor="middle" class="tk">0.3</text>
<line x1="638.92" y1="558.4" x2="638.92" y2="562.2" stroke="#2a2a2a" stroke-width="1"/>
<text x="638.92" y="575.6" text-anchor="middle" class="tk">0.4</text>
<text x="542.3" y="588.8" text-anchor="middle" class="ttl">Tau PET frontal CFB at Week 78 (hypothetical)</text>
<text transform="translate(411.2,472) rotate(-90)" text-anchor="middle" class="ttl yt">CDR-SB CFB at Week 78</text>
<text transform="translate(385.8,473.4) rotate(-90)" text-anchor="middle" class="wor">Worsening</text>
<line x1="394.3" y1="422.5" x2="394.3" y2="522.2" stroke="#111" stroke-width="1.4"/>
<path d="M394.3 418.5 L397.3 425.1 L391.3 425.1 Z" fill="#111"/>
<g fill="#6584b6"><circle cx="500.99" cy="458.48" r="1.1"/><circle cx="508.28" cy="458.48" r="1.1"/><circle cx="509.99" cy="458.48" r="1.1"/><circle cx="511.69" cy="458.48" r="1.1"/><circle cx="513.39" cy="458.48" r="1.1"/><circle cx="525.51" cy="458.48" r="1.1"/><circle cx="533.83" cy="458.48" r="1.1"/><circle cx="546.97" cy="458.48" r="1.1"/><circle cx="500.99" cy="463.05" r="1.1"/><circle cx="503.91" cy="463.05" r="1.1"/><circle cx="509.74" cy="463.05" r="1.1"/><circle cx="514.12" cy="463.05" r="1.1"/><circle cx="527.55" cy="463.05" r="1.1"/><circle cx="535.58" cy="463.05" r="1.1"/><circle cx="497.34" cy="467.62" r="1.1"/><circle cx="512.23" cy="467.62" r="1.1"/><circle cx="514.85" cy="467.62" r="1.1"/><circle cx="517.77" cy="467.62" r="1.1"/><circle cx="519.23" cy="467.62" r="1.1"/><circle cx="523.61" cy="467.62" r="1.1"/><circle cx="525.8" cy="467.62" r="1.1"/><circle cx="530.91" cy="467.62" r="1.1"/><circle cx="532.37" cy="467.62" r="1.1"/><circle cx="501.72" cy="472.2" r="1.1"/><circle cx="508.28" cy="472.2" r="1.1"/><circle cx="510.47" cy="472.2" r="1.1"/><circle cx="515.15" cy="472.2" r="1.1"/><circle cx="526.53" cy="472.2" r="1.1"/><circle cx="494.12" cy="476.78" r="1.1"/><circle cx="500.26" cy="476.78" r="1.1"/><circle cx="501.72" cy="476.78" r="1.1"/><circle cx="504.64" cy="476.78" r="1.1"/><circle cx="511.2" cy="476.78" r="1.1"/><circle cx="514.12" cy="476.78" r="1.1"/><circle cx="517.04" cy="476.78" r="1.1"/><circle cx="520.69" cy="476.78" r="1.1"/><circle cx="522.34" cy="476.78" r="1.1"/><circle cx="523.98" cy="476.78" r="1.1"/><circle cx="525.62" cy="476.78" r="1.1"/><circle cx="527.26" cy="476.78" r="1.1"/><circle cx="490.04" cy="481.35" r="1.1"/><circle cx="495.58" cy="481.35" r="1.1"/><circle cx="497.14" cy="481.35" r="1.1"/><circle cx="498.69" cy="481.35" r="1.1"/><circle cx="500.24" cy="481.35" r="1.1"/><circle cx="501.79" cy="481.35" r="1.1"/><circle cx="503.35" cy="481.35" r="1.1"/><circle cx="504.9" cy="481.35" r="1.1"/><circle cx="506.45" cy="481.35" r="1.1"/><circle cx="508.01" cy="481.35" r="1.1"/><circle cx="509.56" cy="481.35" r="1.1"/><circle cx="511.11" cy="481.35" r="1.1"/><circle cx="512.66" cy="481.35" r="1.1"/><circle cx="516.02" cy="481.35" r="1.1"/><circle cx="530.18" cy="481.35" r="1.1"/><circle cx="534.56" cy="481.35" r="1.1"/><circle cx="538.94" cy="481.35" r="1.1"/><circle cx="540.4" cy="481.35" r="1.1"/><circle cx="494.42" cy="485.93" r="1.1"/><circle cx="495.98" cy="485.93" r="1.1"/><circle cx="497.54" cy="485.93" r="1.1"/><circle cx="499.11" cy="485.93" r="1.1"/><circle cx="500.67" cy="485.93" r="1.1"/><circle cx="502.24" cy="485.93" r="1.1"/><circle cx="503.8" cy="485.93" r="1.1"/><circle cx="505.36" cy="485.93" r="1.1"/><circle cx="507.55" cy="485.93" r="1.1"/><circle cx="509.01" cy="485.93" r="1.1"/><circle cx="510.47" cy="485.93" r="1.1"/><circle cx="511.93" cy="485.93" r="1.1"/><circle cx="513.39" cy="485.93" r="1.1"/><circle cx="514.85" cy="485.93" r="1.1"/><circle cx="519.23" cy="485.93" r="1.1"/><circle cx="526.53" cy="485.93" r="1.1"/><circle cx="535.58" cy="485.93" r="1.1"/><circle cx="486.39" cy="490.5" r="1.1"/><circle cx="488.21" cy="490.5" r="1.1"/><circle cx="490.04" cy="490.5" r="1.1"/><circle cx="493.69" cy="490.5" r="1.1"/><circle cx="495.15" cy="490.5" r="1.1"/><circle cx="498.8" cy="490.5" r="1.1"/><circle cx="500.44" cy="490.5" r="1.1"/><circle cx="502.08" cy="490.5" r="1.1"/><circle cx="503.72" cy="490.5" r="1.1"/><circle cx="505.36" cy="490.5" r="1.1"/><circle cx="507.55" cy="490.5" r="1.1"/><circle cx="509.11" cy="490.5" r="1.1"/><circle cx="510.66" cy="490.5" r="1.1"/><circle cx="512.21" cy="490.5" r="1.1"/><circle cx="513.76" cy="490.5" r="1.1"/><circle cx="515.31" cy="490.5" r="1.1"/><circle cx="516.86" cy="490.5" r="1.1"/><circle cx="518.41" cy="490.5" r="1.1"/><circle cx="519.96" cy="490.5" r="1.1"/><circle cx="523.61" cy="490.5" r="1.1"/><circle cx="481.72" cy="495.07" r="1.1"/><circle cx="488.58" cy="495.07" r="1.1"/><circle cx="490.2" cy="495.07" r="1.1"/><circle cx="491.82" cy="495.07" r="1.1"/><circle cx="493.44" cy="495.07" r="1.1"/><circle cx="495.06" cy="495.07" r="1.1"/><circle cx="496.69" cy="495.07" r="1.1"/><circle cx="498.31" cy="495.07" r="1.1"/><circle cx="499.93" cy="495.07" r="1.1"/><circle cx="501.55" cy="495.07" r="1.1"/><circle cx="503.18" cy="495.07" r="1.1"/><circle cx="509.74" cy="495.07" r="1.1"/><circle cx="511.2" cy="495.07" r="1.1"/><circle cx="512.66" cy="495.07" r="1.1"/><circle cx="515.58" cy="495.07" r="1.1"/><circle cx="519.23" cy="495.07" r="1.1"/><circle cx="521.06" cy="495.07" r="1.1"/><circle cx="522.88" cy="495.07" r="1.1"/><circle cx="525.8" cy="495.07" r="1.1"/><circle cx="530.91" cy="495.07" r="1.1"/><circle cx="475.44" cy="499.65" r="1.1"/><circle cx="482.01" cy="499.65" r="1.1"/><circle cx="483.47" cy="499.65" r="1.1"/><circle cx="484.93" cy="499.65" r="1.1"/><circle cx="486.39" cy="499.65" r="1.1"/><circle cx="490.04" cy="499.65" r="1.1"/><circle cx="491.66" cy="499.65" r="1.1"/><circle cx="493.28" cy="499.65" r="1.1"/><circle cx="494.9" cy="499.65" r="1.1"/><circle cx="496.52" cy="499.65" r="1.1"/><circle cx="498.15" cy="499.65" r="1.1"/><circle cx="499.77" cy="499.65" r="1.1"/><circle cx="501.39" cy="499.65" r="1.1"/><circle cx="503.01" cy="499.65" r="1.1"/><circle cx="504.64" cy="499.65" r="1.1"/><circle cx="508.28" cy="499.65" r="1.1"/><circle cx="509.93" cy="499.65" r="1.1"/><circle cx="511.57" cy="499.65" r="1.1"/><circle cx="513.21" cy="499.65" r="1.1"/><circle cx="514.85" cy="499.65" r="1.1"/><circle cx="516.5" cy="499.65" r="1.1"/><circle cx="518.14" cy="499.65" r="1.1"/><circle cx="519.78" cy="499.65" r="1.1"/><circle cx="521.42" cy="499.65" r="1.1"/><circle cx="526.53" cy="499.65" r="1.1"/><circle cx="530.18" cy="499.65" r="1.1"/><circle cx="549.89" cy="499.65" r="1.1"/><circle cx="476.61" cy="504.23" r="1.1"/><circle cx="484.2" cy="504.23" r="1.1"/><circle cx="488.28" cy="504.23" r="1.1"/><circle cx="489.94" cy="504.23" r="1.1"/><circle cx="491.59" cy="504.23" r="1.1"/><circle cx="493.25" cy="504.23" r="1.1"/><circle cx="494.9" cy="504.23" r="1.1"/><circle cx="496.56" cy="504.23" r="1.1"/><circle cx="498.21" cy="504.23" r="1.1"/><circle cx="499.87" cy="504.23" r="1.1"/><circle cx="501.52" cy="504.23" r="1.1"/><circle cx="503.18" cy="504.23" r="1.1"/><circle cx="506.82" cy="504.23" r="1.1"/><circle cx="508.38" cy="504.23" r="1.1"/><circle cx="509.93" cy="504.23" r="1.1"/><circle cx="511.48" cy="504.23" r="1.1"/><circle cx="513.03" cy="504.23" r="1.1"/><circle cx="514.58" cy="504.23" r="1.1"/><circle cx="516.13" cy="504.23" r="1.1"/><circle cx="517.68" cy="504.23" r="1.1"/><circle cx="519.23" cy="504.23" r="1.1"/><circle cx="521.42" cy="504.23" r="1.1"/><circle cx="522.88" cy="504.23" r="1.1"/><circle cx="524.34" cy="504.23" r="1.1"/><circle cx="525.8" cy="504.23" r="1.1"/><circle cx="529.45" cy="504.23" r="1.1"/><circle cx="537.92" cy="504.23" r="1.1"/><circle cx="495.88" cy="508.8" r="1.1"/><circle cx="497.34" cy="508.8" r="1.1"/><circle cx="498.8" cy="508.8" r="1.1"/><circle cx="500.26" cy="508.8" r="1.1"/><circle cx="501.72" cy="508.8" r="1.1"/><circle cx="503.18" cy="508.8" r="1.1"/><circle cx="513.39" cy="508.8" r="1.1"/><circle cx="516.31" cy="508.8" r="1.1"/><circle cx="464.05" cy="513.38" r="1.1"/><circle cx="478.07" cy="513.38" r="1.1"/><circle cx="482.01" cy="513.38" r="1.1"/><circle cx="485.36" cy="513.38" r="1.1"/><circle cx="488.58" cy="513.38" r="1.1"/><circle cx="490.19" cy="513.38" r="1.1"/><circle cx="491.81" cy="513.38" r="1.1"/><circle cx="493.43" cy="513.38" r="1.1"/><circle cx="495.04" cy="513.38" r="1.1"/><circle cx="496.66" cy="513.38" r="1.1"/><circle cx="498.27" cy="513.38" r="1.1"/><circle cx="499.89" cy="513.38" r="1.1"/><circle cx="501.51" cy="513.38" r="1.1"/><circle cx="503.12" cy="513.38" r="1.1"/><circle cx="504.74" cy="513.38" r="1.1"/><circle cx="506.36" cy="513.38" r="1.1"/><circle cx="507.97" cy="513.38" r="1.1"/><circle cx="509.59" cy="513.38" r="1.1"/><circle cx="511.2" cy="513.38" r="1.1"/><circle cx="514.12" cy="513.38" r="1.1"/><circle cx="515.95" cy="513.38" r="1.1"/><circle cx="517.77" cy="513.38" r="1.1"/><circle cx="488.58" cy="517.95" r="1.1"/><circle cx="490.11" cy="517.95" r="1.1"/><circle cx="491.64" cy="517.95" r="1.1"/><circle cx="493.18" cy="517.95" r="1.1"/><circle cx="494.71" cy="517.95" r="1.1"/><circle cx="496.24" cy="517.95" r="1.1"/><circle cx="497.77" cy="517.95" r="1.1"/><circle cx="499.31" cy="517.95" r="1.1"/><circle cx="500.84" cy="517.95" r="1.1"/><circle cx="502.37" cy="517.95" r="1.1"/><circle cx="503.91" cy="517.95" r="1.1"/><circle cx="522.45" cy="517.95" r="1.1"/><circle cx="492.23" cy="522.52" r="1.1"/><circle cx="493.89" cy="522.52" r="1.1"/><circle cx="495.56" cy="522.52" r="1.1"/><circle cx="497.23" cy="522.52" r="1.1"/><circle cx="498.9" cy="522.52" r="1.1"/><circle cx="500.57" cy="522.52" r="1.1"/><circle cx="502.24" cy="522.52" r="1.1"/><circle cx="503.91" cy="522.52" r="1.1"/><circle cx="513.39" cy="522.52" r="1.1"/><circle cx="517.77" cy="522.52" r="1.1"/><circle cx="475.44" cy="527.1" r="1.1"/><circle cx="484.93" cy="527.1" r="1.1"/><circle cx="499.53" cy="527.1" r="1.1"/><circle cx="501.42" cy="527.1" r="1.1"/><circle cx="508.28" cy="527.1" r="1.1"/><circle cx="519.53" cy="527.1" r="1.1"/><circle cx="513.69" cy="531.67" r="1.1"/><circle cx="476.61" cy="536.25" r="1.1"/><circle cx="490.04" cy="536.25" r="1.1"/><circle cx="497.34" cy="536.25" r="1.1"/><circle cx="503.91" cy="536.25" r="1.1"/><circle cx="512.23" cy="536.25" r="1.1"/><circle cx="499.96" cy="540.83" r="1.1"/><circle cx="496.5" cy="407.6" r="1.1"/><circle cx="551.09" cy="407.6" r="1.1"/><circle cx="535.77" cy="412.2" r="1.1"/><circle cx="559.56" cy="412.2" r="1.1"/><circle cx="523.5" cy="421.4" r="1.1"/><circle cx="547.15" cy="421.4" r="1.1"/><circle cx="509.2" cy="426" r="1.1"/><circle cx="526.72" cy="426" r="1.1"/><circle cx="519.42" cy="430.6" r="1.1"/><circle cx="543.8" cy="435.2" r="1.1"/><circle cx="554.45" cy="435.2" r="1.1"/><circle cx="512.12" cy="439.8" r="1.1"/><circle cx="513.58" cy="439.8" r="1.1"/><circle cx="496.5" cy="444.4" r="1.1"/><circle cx="534.74" cy="444.4" r="1.1"/><circle cx="536.2" cy="444.4" r="1.1"/><circle cx="542.77" cy="444.4" r="1.1"/><circle cx="521.61" cy="449" r="1.1"/><circle cx="523.07" cy="449" r="1.1"/><circle cx="529.2" cy="449" r="1.1"/><circle cx="493.14" cy="453.6" r="1.1"/><circle cx="497.23" cy="453.6" r="1.1"/><circle cx="525.69" cy="453.6" r="1.1"/><circle cx="542.77" cy="453.6" r="1.1"/><circle cx="559.7" cy="481.35" r="1.1"/><circle cx="554.7" cy="490.5" r="1.1"/><circle cx="549.7" cy="499.65" r="1.1"/><circle cx="560.9" cy="467.62" r="1.1"/></g>
<line x1="506" y1="385.6" x2="506" y2="558.4" stroke="#000" stroke-width="2.4" stroke-dasharray="9.2 7.3 9.2 7.3 9.2 7.3 9.2 7.3 9.2 7.3 9.2 7.3 9.2 7.3 9.2 7.3 9.2 7.3 9.2 7.3 9.2 7.3 9.2 7.3"/>
<line x1="436.8" y1="508.8" x2="642.5" y2="508.8" stroke="#000" stroke-width="2.4" stroke-dasharray="9.3 7.17"/>
<text x="506.3" y="384.5" text-anchor="middle" class="z0">0</text>
<text x="649.1" y="513.7" text-anchor="middle" class="z1">0</text>
<line x1="464.46" y1="527.1" x2="560.16" y2="457.56" stroke="#80b052" stroke-width="2.8"/>
<path d="M503.2 496 H510.8 M507 492.2 V499.8" stroke="#e62e22" stroke-width="2.8" fill="none"/>
<text x="566.3" y="398" class="lab">Treated,</text>
<text x="566.3" y="411" class="lab">pooled across</text>
<text x="566.3" y="424" class="lab">doses</text>
<text transform="translate(44.7,24.7) scale(1.09,1)" class="pan">A</text>
<text transform="translate(45.2,376.0) scale(1.04,1)" class="pan">B</text>
</svg>
<div class="tb ta" style="left:86px;top:261.4px;width:557px"><div class="th" style="height:18.8px;line-height:18.8px"><div class="c1" style="width:271px">Placebo arm features</div><div class="c2" style="left:272px;width:285px">Treated arm features</div></div><div class="bd" style="height:74px"><div class="c1" style="width:271px"><div class="it" style="top:10.4px"><span class="bu">•</span>Biomarker level remains stable (CFB scatters around 0)</div><div class="it" style="top:32px"><span class="bu">•</span>Clinical endpoint progresses/worsens naturally (CFB mostly<br>higher than 0)</div><div class="it" style="top:60px"><span class="bu">•</span>No correlation in placebo arm, as expected</div></div><div class="c2" style="left:272px;width:285px"><div class="it" style="top:4px"><span class="bu">•</span>Biomarker level reduced from baseline (CFB shifts to left, mostly<br>lower than 0)</div><div class="it" style="top:32px"><span class="bu">•</span>Clinical endpoint progresses slower compared with placebo (CFB<br>shifts toward bottom)</div><div class="it" style="top:60px"><span class="bu">•</span>Treatment-induced correlation observed in treated participants</div></div></div></div>
<div class="tb tbb" style="left:78px;top:610.8px;width:567px"><div class="th" style="height:18.0px;line-height:18.0px"><div class="c1" style="width:283px">Placebo arm features</div><div class="c2" style="left:284px;width:283px">Treated arm features</div></div><div class="bd" style="height:73.6px"><div class="c1" style="width:283px"><div class="it" style="top:9.4px"><span class="bu">•</span>Biomarker accumulates naturally (CFB mostly higher than 0)</div><div class="it" style="top:37.6px"><span class="bu">•</span>Clinical endpoint progresses naturally (CFB mostly higher than 0)</div><div class="it" style="top:60.2px"><span class="bu">•</span>Positive correlation observed</div></div><div class="c2" style="left:284px;width:283px"><div class="it" style="top:3.2px"><span class="bu">•</span>Reduced accumulation of biomarker compared with placebo<br>(CFB shifts toward left)</div><div class="it" style="top:31.4px"><span class="bu">•</span>Slower progression of clinical endpoint compared with placebo<br>(CFB shifts toward bottom)</div><div class="it" style="top:59.5px"><span class="bu">•</span>Similar positive correlation as in placebo observed</div></div></div></div>
<div id="topbar"></div>
<div id="frame"></div>
</body></html>
